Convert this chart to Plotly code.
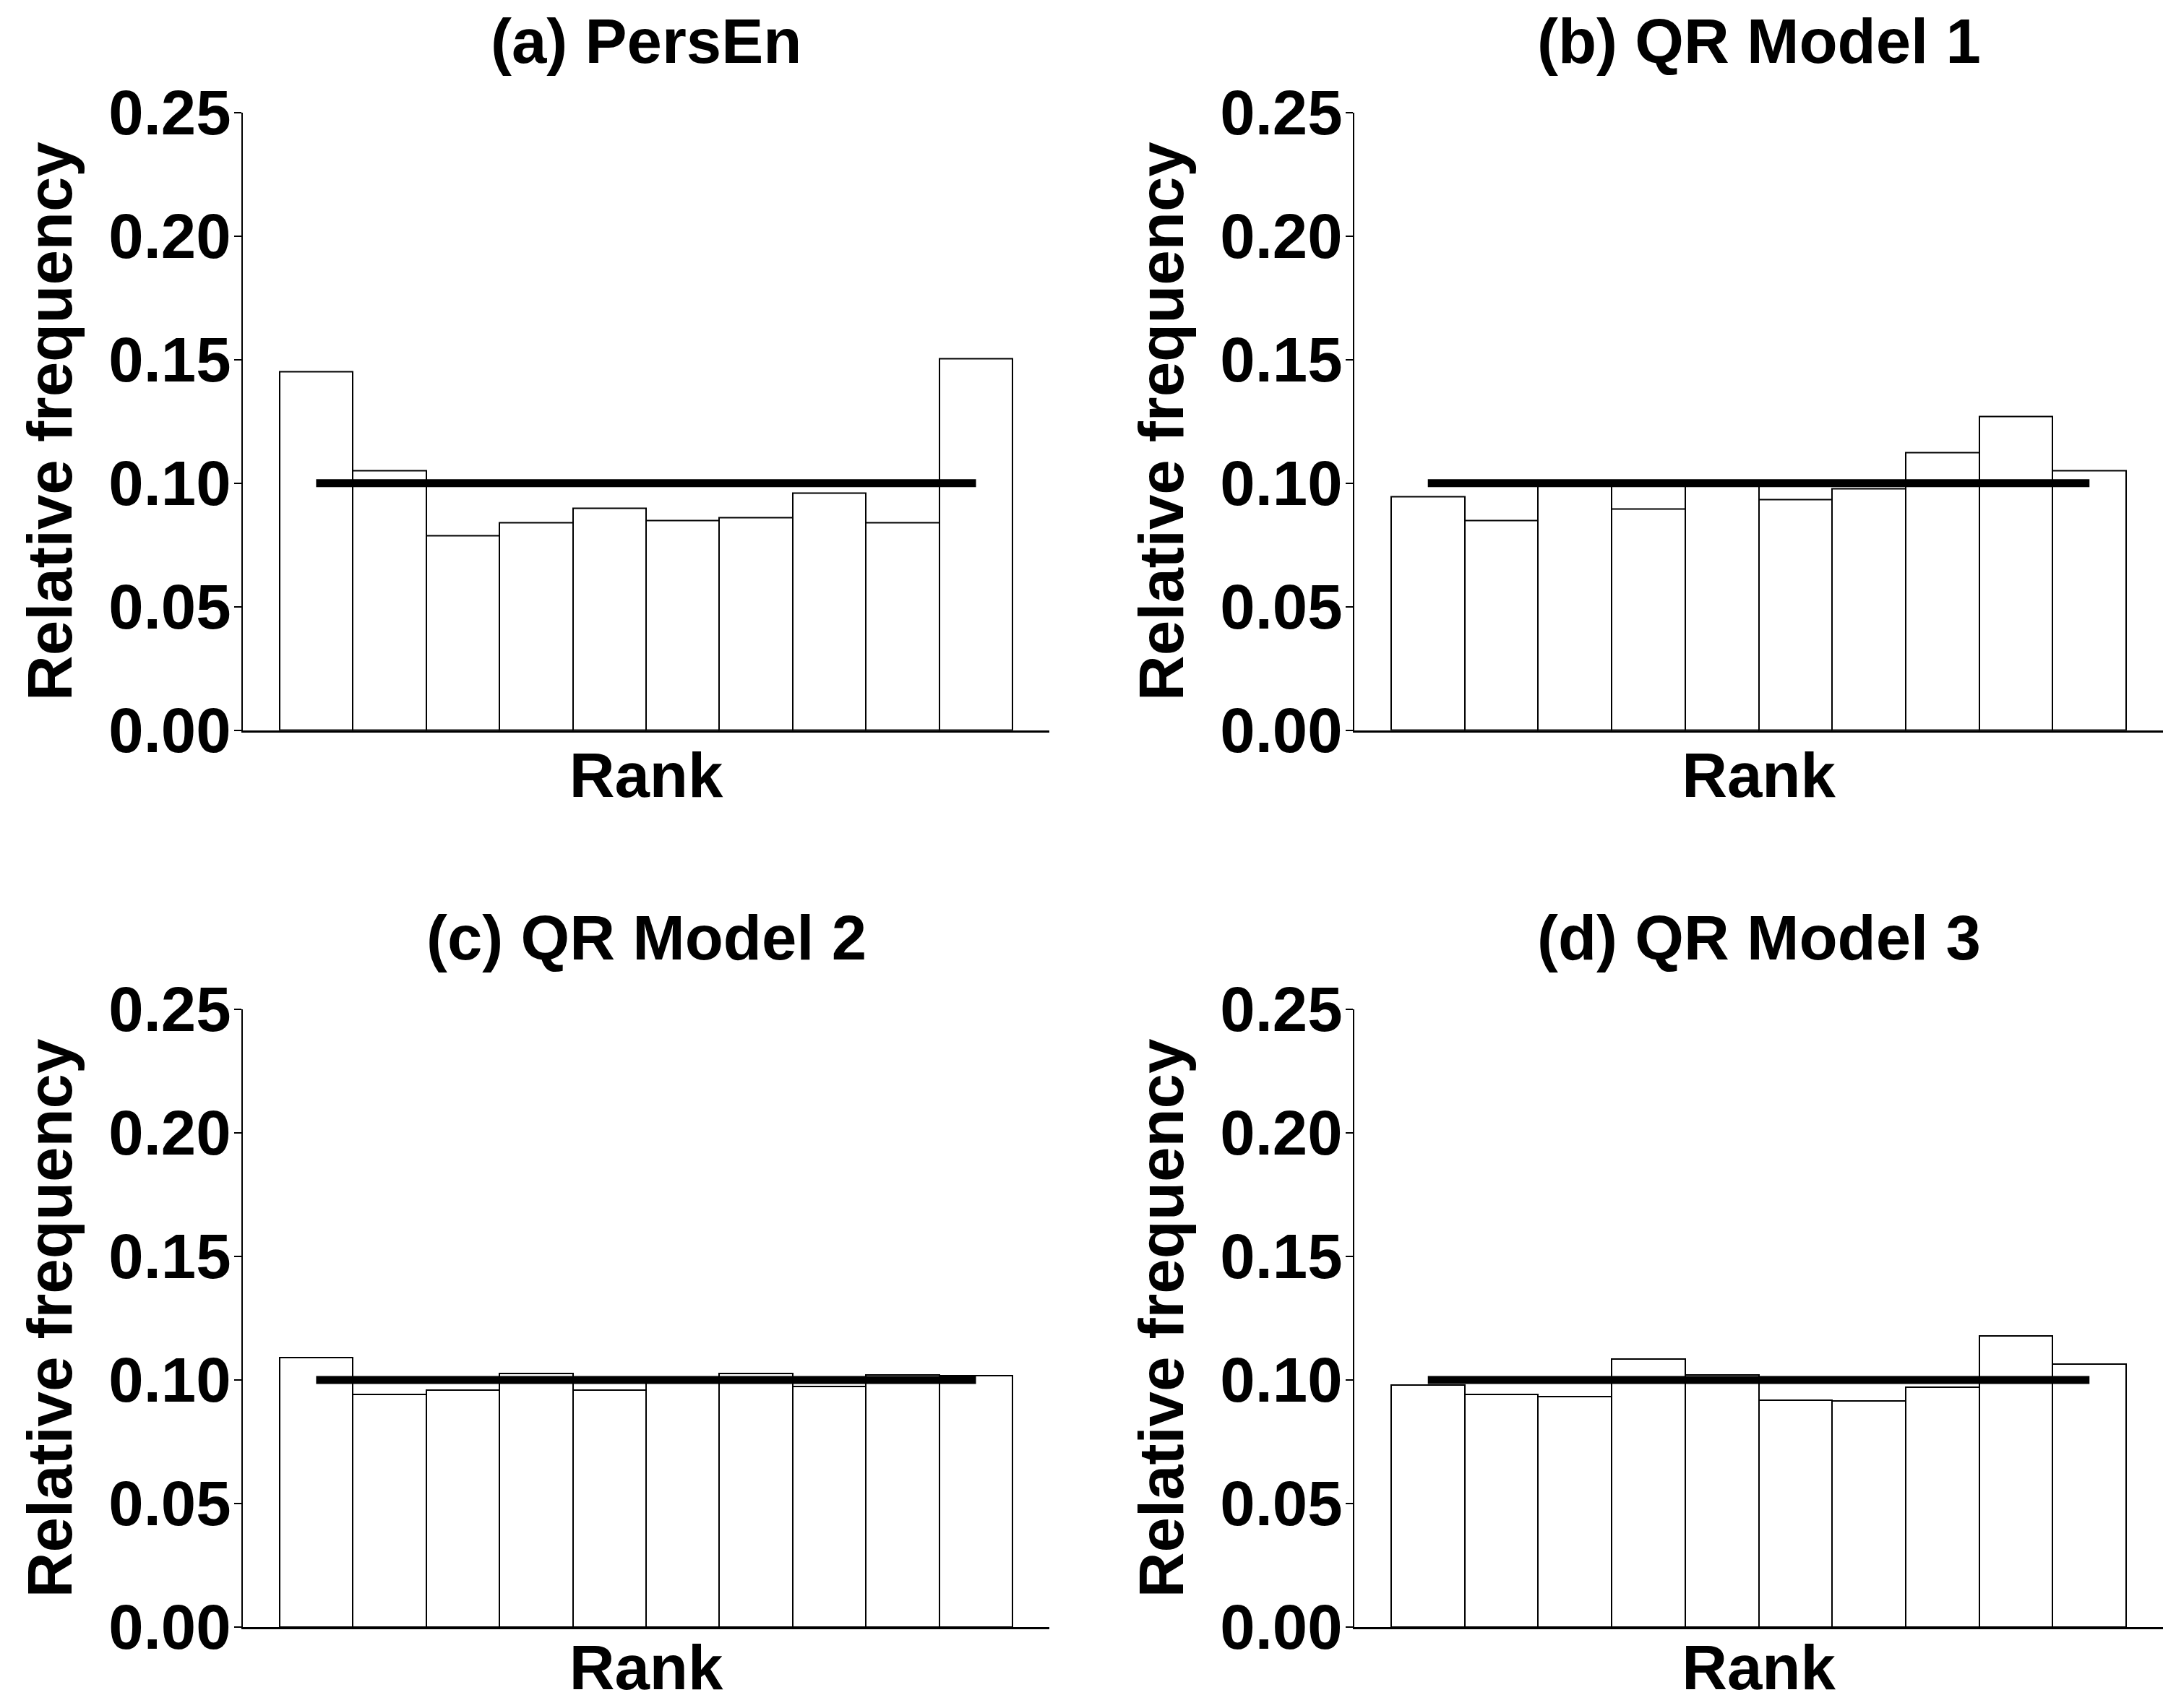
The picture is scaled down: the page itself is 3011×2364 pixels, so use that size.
import plotly.graph_objects as go

ranks = [1, 2, 3, 4, 5, 6, 7, 8, 9, 10]
persen = [0.1451, 0.1051, 0.0787, 0.0840, 0.0899, 0.0847, 0.0860, 0.0960, 0.0840, 0.1503]
qr_model1 = [0.0945, 0.0847, 0.0995, 0.0894, 0.1000, 0.0933, 0.0978, 0.1123, 0.1268, 0.1051]
qr_model2 = [0.1092, 0.0941, 0.0960, 0.1027, 0.0960, 0.1000, 0.1027, 0.0973, 0.1020, 0.1018]
qr_model3 = [0.0980, 0.0941, 0.0934, 0.1086, 0.1020, 0.0919, 0.0914, 0.0972, 0.1177, 0.1065]
uniform_level = 0.1
titles = ["(a) PersEn", "(b) QR Model 1", "(c) QR Model 2", "(d) QR Model 3"]
y_ticks = [0.0, 0.05, 0.10, 0.15, 0.20, 0.25]

# page body has an 8px margin: size the figure to fit the 3011x2364 window
OFF = 8
W, H = 3011 - 2 * OFF, 2364 - 2 * OFF
FONT = "Liberation Sans"
FS = 87


def px_x(v):
    return (v - OFF) / W


def px_y(v):
    return 1 - (v - OFF) / H


xdoms = [[px_x(336), px_x(1452)], [px_x(1874), px_x(2993)]]
ydoms = [[px_y(1010.7), px_y(155.6)], [px_y(2252), px_y(1397)]]

series = [persen, qr_model1, qr_model2, qr_model3]
fig = go.Figure()
layout = dict(
    template="none",
    width=W, height=H, paper_bgcolor="white", plot_bgcolor="white",
    margin=dict(l=0, r=0, t=0, b=0, autoexpand=False), showlegend=False,
    font=dict(family=FONT, size=FS, color="black", weight="bold"),
    bargap=0,
)
annotations = []
for i, vals in enumerate(series):
    r, c = divmod(i, 2)
    n = i + 1
    xa = "x" if n == 1 else f"x{n}"
    ya = "y" if n == 1 else f"y{n}"
    fig.add_trace(go.Bar(
        x=ranks, y=vals, width=1, xaxis=xa, yaxis=ya,
        marker=dict(color="white", line=dict(color="black", width=2)),
    ))
    fig.add_trace(go.Scatter(
        x=[ranks[0], ranks[-1]], y=[uniform_level, uniform_level],
        mode="lines", line=dict(color="black", width=11), xaxis=xa, yaxis=ya,
    ))
    xkey = "xaxis" if n == 1 else f"xaxis{n}"
    ykey = "yaxis" if n == 1 else f"yaxis{n}"
    layout[xkey] = dict(
        domain=xdoms[c], anchor=ya, range=[0, 11], showgrid=False, zeroline=False,
        automargin=False,
        showticklabels=False, ticks="", showline=True, linecolor="black", linewidth=2.5,
        title=dict(text="Rank", standoff=30, font=dict(family=FONT, size=FS, weight="bold")),
    )
    layout[ykey] = dict(
        domain=ydoms[r], anchor=xa, range=[0, 0.25], showgrid=False, zeroline=False,
        automargin=False,
        tickvals=y_ticks, tickformat=".2f", ticks="outside", ticklen=10, tickwidth=2,
        ticklabelstandoff=-13,
        tickcolor="black", showline=True, linecolor="black", linewidth=2,
        tickfont=dict(family=FONT, size=FS, weight="bold"),
        title=dict(text="Relative frequency", standoff=22, font=dict(family=FONT, size=FS, weight="bold")),
    )
    annotations.append(dict(
        text=titles[i], xref="paper", yref="paper",
        x=(xdoms[c][0] + xdoms[c][1]) / 2, y=ydoms[r][1],
        xanchor="center", yanchor="bottom", yshift=49, showarrow=False,
        font=dict(family=FONT, size=FS, weight="bold"),
    ))
layout["annotations"] = annotations
fig.update_layout(**layout)
fig.write_html("out.html")
